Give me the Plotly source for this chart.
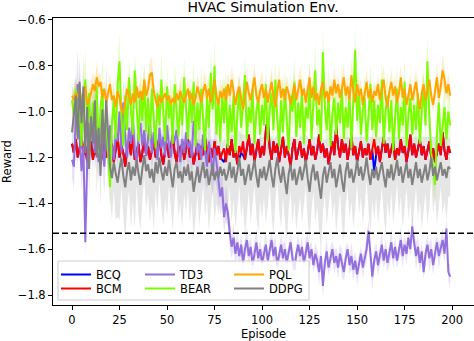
import plotly.graph_objects as go

EPISODES = list(range(200))

BCQ = [
    -1.14,-1.18,-1.12,-1.20,-1.16,-1.10,-1.19,-1.15,-1.22,-1.17,-1.13,-1.21,-1.16,-1.19,-1.14,-1.23,-1.18,-1.12,-1.20,-1.16,
    -1.19,-1.14,-1.22,-1.17,-1.11,-1.20,-1.15,-1.18,-1.24,-1.16,-1.13,-1.19,-1.09,-1.21,-1.17,-1.14,-1.22,-1.18,-1.12,-1.19,
    -1.15,-1.21,-1.17,-1.13,-1.20,-1.16,-1.11,-1.19,-1.23,-1.17,-1.14,-1.20,-1.16,-1.10,-1.18,-1.22,-1.15,-1.19,-1.13,-1.21,
    -1.17,-1.12,-1.20,-1.16,-1.23,-1.18,-1.14,-1.21,-1.15,-1.19,-1.11,-1.17,-1.22,-1.16,-1.20,-1.13,-1.19,-1.15,-1.20,-1.21,
    -1.22,-1.19,-1.14,-1.19,-1.12,-1.20,-1.17,-1.23,-1.20,-1.18,-1.19,-1.21,-1.16,-1.10,-1.19,-1.14,-1.22,-1.17,-1.12,-1.20,
    -1.15,-1.19,-1.08,-1.03,-1.16,-1.21,-1.13,-1.18,-1.14,-1.22,-1.17,-1.11,-1.20,-1.15,-1.19,-1.24,-1.16,-1.12,-1.21,-1.17,
    -1.13,-1.20,-1.16,-1.22,-1.18,-1.12,-1.19,-1.15,-1.21,-1.17,-1.10,-1.18,-1.14,-1.20,-1.16,-1.23,-1.17,-1.13,-1.19,-1.06,
    -1.15,-1.20,-1.12,-1.18,-1.14,-1.21,-1.16,-1.10,-1.19,-1.15,-1.22,-1.17,-1.13,-1.20,-1.16,-1.19,-1.14,-1.21,-1.17,-1.26,
    -1.19,-1.15,-1.22,-1.16,-1.11,-1.18,-1.14,-1.20,-1.17,-1.13,-1.21,-1.16,-1.19,-1.12,-1.18,-1.15,-1.22,-1.17,-1.10,-1.19,
    -1.14,-1.20,-1.16,-1.12,-1.19,-1.15,-1.21,-1.17,-1.13,-1.20,-1.16,-1.22,-1.18,-1.14,-1.19,-1.09,-1.17,-1.21,-1.15,-1.18,
]

BCM = [
    -1.14,-1.18,-1.12,-1.20,-1.16,-1.10,-1.19,-1.15,-1.22,-1.17,-1.13,-1.21,-1.16,-1.19,-1.14,-1.23,-1.18,-1.12,-1.20,-1.16,
    -1.19,-1.14,-1.22,-1.17,-1.11,-1.20,-1.15,-1.18,-1.24,-1.16,-1.13,-1.19,-1.09,-1.21,-1.17,-1.14,-1.22,-1.18,-1.12,-1.19,
    -1.15,-1.21,-1.17,-1.13,-1.20,-1.16,-1.11,-1.19,-1.23,-1.17,-1.14,-1.20,-1.16,-1.10,-1.18,-1.22,-1.15,-1.19,-1.13,-1.21,
    -1.17,-1.12,-1.20,-1.16,-1.23,-1.18,-1.14,-1.21,-1.15,-1.19,-1.11,-1.17,-1.22,-1.16,-1.20,-1.13,-1.19,-1.15,-1.21,-1.18,
    -1.16,-1.22,-1.14,-1.19,-1.12,-1.20,-1.17,-1.23,-1.15,-1.18,-1.13,-1.21,-1.16,-1.10,-1.19,-1.14,-1.22,-1.17,-1.12,-1.20,
    -1.15,-1.19,-1.08,-1.03,-1.16,-1.21,-1.13,-1.18,-1.14,-1.22,-1.17,-1.11,-1.20,-1.15,-1.19,-1.24,-1.16,-1.12,-1.21,-1.17,
    -1.13,-1.20,-1.16,-1.22,-1.18,-1.12,-1.19,-1.15,-1.21,-1.17,-1.10,-1.18,-1.14,-1.20,-1.16,-1.23,-1.17,-1.13,-1.19,-1.06,
    -1.15,-1.20,-1.12,-1.18,-1.14,-1.21,-1.16,-1.10,-1.19,-1.15,-1.22,-1.17,-1.13,-1.20,-1.16,-1.19,-1.14,-1.21,-1.17,-1.12,
    -1.19,-1.15,-1.22,-1.16,-1.11,-1.18,-1.14,-1.20,-1.17,-1.13,-1.21,-1.16,-1.19,-1.12,-1.18,-1.15,-1.22,-1.17,-1.10,-1.19,
    -1.14,-1.20,-1.16,-1.12,-1.19,-1.15,-1.21,-1.17,-1.13,-1.20,-1.16,-1.22,-1.18,-1.14,-1.19,-1.09,-1.17,-1.21,-1.15,-1.18,
]

TD3 = [
    -1.21,-1.24,-1.02,-0.88,-1.10,-1.26,-1.15,-1.57,-1.22,-1.05,-1.12,-1.00,-1.18,-1.08,-1.22,-1.03,-1.15,-1.24,-1.10,-1.19,
    -1.06,-1.16,-1.21,-1.09,-1.13,-1.00,-1.18,-0.96,-1.11,-1.20,-1.07,-1.14,-1.03,-1.17,-1.22,-1.10,-1.05,-1.15,-1.08,-1.19,
    -1.12,-1.04,-1.18,-1.09,-1.14,-1.21,-1.07,-1.16,-1.11,-1.19,-1.06,-1.15,-1.20,-1.10,-1.13,-1.08,-1.17,-1.22,-1.12,-1.18,
    -1.09,-1.16,-1.13,-1.20,-1.04,-1.11,-1.18,-1.14,-1.21,-1.10,-1.17,-1.24,-1.13,-1.19,-1.28,-1.16,-1.22,-1.30,-1.37,-1.33,
    -1.46,-1.40,-1.44,-1.53,-1.59,-1.55,-1.62,-1.57,-1.63,-1.58,-1.66,-1.60,-1.56,-1.63,-1.59,-1.67,-1.61,-1.57,-1.64,-1.60,
    -1.66,-1.62,-1.58,-1.65,-1.61,-1.56,-1.63,-1.59,-1.67,-1.62,-1.58,-1.64,-1.60,-1.66,-1.61,-1.57,-1.64,-1.69,-1.62,-1.58,
    -1.63,-1.59,-1.66,-1.61,-1.57,-1.64,-1.60,-1.67,-1.62,-1.65,-1.70,-1.63,-1.76,-1.66,-1.61,-1.68,-1.64,-1.60,-1.66,-1.63,
    -1.68,-1.62,-1.66,-1.70,-1.64,-1.60,-1.67,-1.63,-1.69,-1.65,-1.71,-1.66,-1.62,-1.68,-1.64,-1.60,-1.52,-1.63,-1.72,-1.65,
    -1.61,-1.67,-1.63,-1.58,-1.65,-1.60,-1.66,-1.62,-1.57,-1.64,-1.59,-1.65,-1.61,-1.56,-1.63,-1.58,-1.62,-1.55,-1.60,-1.50,
    -1.57,-1.63,-1.59,-1.66,-1.61,-1.70,-1.62,-1.58,-1.64,-1.60,-1.67,-1.61,-1.57,-1.63,-1.59,-1.56,-1.62,-1.51,-1.70,-1.72,
]

BEAR = [
    -0.95,-1.02,-0.90,-1.10,-0.93,-1.15,-0.97,-0.86,-1.05,-0.92,-1.12,-0.96,-1.08,-0.89,-1.18,-0.99,-0.90,-1.14,-1.03,-1.20,
    -1.33,-1.05,-0.95,-1.12,-0.88,-0.78,-1.02,-1.15,-0.93,-1.08,-0.85,-0.99,-1.10,-0.82,-0.96,-1.13,-0.91,-1.04,-0.87,-1.09,
    -0.94,-1.12,-0.90,-1.01,-1.16,-0.92,-1.06,-0.86,-0.98,-1.13,-0.89,-1.03,-0.95,-1.14,-0.88,-1.00,-1.11,-0.93,-1.06,-0.85,
    -0.99,-1.12,-0.91,-1.05,-0.87,-1.15,-0.96,-1.08,-0.90,-1.02,-1.17,-0.94,-1.07,-0.83,-0.99,-0.80,-1.10,-0.95,-1.13,-0.92,
    -1.05,-0.89,-1.16,-0.97,-1.09,-0.93,-1.18,-1.01,-0.91,-1.07,-0.96,-0.84,-1.12,-0.98,-1.05,-0.90,-1.14,-1.00,-0.94,-1.10,
    -0.97,-1.06,-0.88,-1.13,-0.99,-0.92,-1.08,-0.86,-1.03,-1.15,-0.95,-1.09,-0.90,-1.04,-1.17,-0.93,-1.00,-0.87,-1.11,-0.96,
    -1.07,-0.91,-1.14,-0.98,-1.03,-0.89,-1.12,-0.96,-0.82,-1.06,-0.99,-1.13,-0.74,-0.97,-1.08,-0.92,-1.15,-1.01,-0.94,-1.10,
    -0.96,-1.05,-0.90,-1.12,-0.98,-1.07,-0.93,-1.16,-0.97,-0.73,-1.04,-0.91,-1.10,-0.99,-0.94,-1.13,-1.02,-0.88,-1.08,-0.95,
    -1.11,-0.97,-1.05,-0.86,-1.14,-1.00,-0.93,-1.09,-0.95,-1.17,-1.03,-0.90,-1.12,-0.98,-1.06,-0.87,-1.15,-1.01,-0.94,-1.10,
    -0.97,-1.08,-0.92,-1.14,-1.00,-0.91,-1.06,-0.78,-1.02,-1.18,-1.25,-1.32,-1.10,-0.96,-1.15,-1.05,-0.98,-1.12,-1.00,-1.06,
]

PQL = [
    -0.93,-0.95,-0.92,-0.94,-0.90,-0.96,-0.93,-0.89,-0.97,-0.95,-0.92,-0.88,-0.91,-0.85,-0.89,-0.87,-0.94,-0.90,-0.96,-0.92,
    -0.88,-0.95,-0.93,-0.98,-0.91,-0.94,-0.99,-1.01,-0.95,-0.90,-0.93,-0.97,-0.92,-0.96,-0.89,-0.94,-0.91,-0.95,-0.86,-0.93,
    -0.90,-0.84,-0.83,-0.91,-0.95,-0.98,-0.93,-0.96,-0.94,-0.92,-0.95,-0.93,-0.97,-0.94,-0.96,-0.92,-0.95,-0.91,-0.94,-0.96,
    -0.93,-0.90,-0.95,-0.92,-0.97,-0.94,-0.89,-0.93,-0.96,-0.91,-0.88,-0.94,-0.90,-0.96,-0.92,-0.86,-0.93,-0.97,-0.91,-0.94,
    -0.90,-0.95,-0.88,-0.93,-0.86,-0.91,-0.97,-0.92,-0.89,-0.94,-0.99,-0.93,-0.87,-0.92,-0.95,-0.90,-0.85,-0.93,-0.96,-0.91,
    -0.88,-0.94,-0.90,-0.96,-0.92,-0.87,-0.93,-0.98,-0.91,-0.86,-0.94,-0.90,-0.95,-0.89,-0.92,-0.97,-0.93,-0.88,-0.95,-0.91,
    -0.86,-0.93,-0.90,-0.96,-0.91,-0.85,-0.94,-0.89,-0.95,-0.92,-0.97,-0.90,-0.87,-0.94,-0.91,-0.96,-0.89,-0.93,-0.86,-0.92,
    -0.88,-0.94,-0.90,-0.85,-0.93,-0.89,-0.95,-0.84,-0.91,-0.96,-0.88,-0.93,-0.90,-0.97,-0.92,-0.87,-0.94,-0.90,-0.96,-0.91,
    -0.93,-0.88,-0.95,-0.90,-0.86,-0.94,-0.98,-0.91,-0.87,-0.93,-0.89,-0.96,-0.92,-0.85,-0.94,-0.90,-0.97,-0.93,-0.88,-0.95,
    -0.91,-0.87,-0.94,-0.99,-0.92,-0.88,-0.95,-0.90,-0.86,-0.93,-0.97,-0.91,-0.85,-0.94,-0.89,-0.82,-0.86,-0.92,-0.88,-0.93,
]

DDPG = [
    -1.09,-1.00,-0.93,-1.12,-0.87,-1.05,-0.89,-1.18,-0.98,-1.25,-1.02,-1.14,-0.95,-1.20,-1.07,-1.28,-0.99,-1.16,-0.95,-1.10,
    -1.24,-1.29,-1.22,-1.27,-1.31,-1.25,-1.20,-1.28,-1.33,-1.26,-1.22,-1.30,-1.24,-1.28,-1.21,-1.27,-1.32,-1.25,-1.19,-1.26,
    -1.23,-1.29,-1.25,-1.31,-1.22,-1.27,-1.20,-1.26,-1.30,-1.24,-1.28,-1.21,-1.27,-1.33,-1.25,-1.22,-1.29,-1.26,-1.31,-1.24,
    -1.28,-1.23,-1.30,-1.26,-1.35,-1.29,-1.24,-1.31,-1.27,-1.22,-1.29,-1.25,-1.32,-1.27,-1.23,-1.30,-1.26,-1.29,-1.24,-1.28,
    -1.25,-1.30,-1.27,-1.22,-1.29,-1.24,-1.31,-1.26,-1.20,-1.28,-1.25,-1.32,-1.27,-1.23,-1.30,-1.26,-1.21,-1.28,-1.33,-1.25,
    -1.29,-1.24,-1.30,-1.26,-1.21,-1.28,-1.33,-1.25,-1.20,-1.27,-1.31,-1.24,-1.29,-1.36,-1.27,-1.23,-1.30,-1.25,-1.32,-1.28,
    -1.24,-1.30,-1.26,-1.21,-1.29,-1.35,-1.27,-1.23,-1.30,-1.26,-1.32,-1.38,-1.28,-1.24,-1.31,-1.27,-1.22,-1.29,-1.25,-1.33,
    -1.27,-1.23,-1.30,-1.35,-1.26,-1.22,-1.29,-1.25,-1.31,-1.27,-1.21,-1.28,-1.24,-1.30,-1.26,-1.20,-1.27,-1.32,-1.25,-1.29,
    -1.24,-1.30,-1.26,-1.22,-1.28,-1.33,-1.25,-1.29,-1.23,-1.30,-1.26,-1.21,-1.28,-1.24,-1.31,-1.27,-1.22,-1.29,-1.25,-1.32,
    -1.26,-1.22,-1.29,-1.25,-1.31,-1.27,-1.23,-1.30,-1.26,-1.20,-1.28,-1.24,-1.30,-1.26,-1.22,-1.28,-1.25,-1.29,-1.24,-1.25,
]

TD3_STD = [
    0.08,0.10,0.12,0.15,0.10,0.08,0.11,0.06,0.09,0.12,0.07,0.10,0.08,0.11,0.09,0.07,0.10,0.12,0.08,0.09,
    0.07,0.09,0.06,0.08,0.10,0.07,0.09,0.11,0.08,0.06,0.09,0.07,0.10,0.08,0.06,0.09,0.07,0.10,0.08,0.06,
    0.08,0.10,0.07,0.09,0.06,0.08,0.10,0.07,0.09,0.06,0.08,0.11,0.07,0.09,0.06,0.10,0.08,0.07,0.09,0.06,
    0.09,0.12,0.08,0.14,0.10,0.13,0.09,0.15,0.11,0.08,0.14,0.10,0.16,0.12,0.09,0.13,0.11,0.10,0.08,0.09,
    0.07,0.08,0.06,0.07,0.05,0.06,0.05,0.06,0.04,0.05,0.06,0.04,0.05,0.06,0.04,0.05,0.04,0.06,0.05,0.04,
    0.05,0.04,0.06,0.03,0.05,0.04,0.06,0.05,0.03,0.04,0.05,0.06,0.04,0.05,0.03,0.04,0.06,0.05,0.04,0.05,
    0.04,0.05,0.03,0.06,0.04,0.05,0.04,0.03,0.05,0.04,0.06,0.04,0.05,0.04,0.06,0.03,0.05,0.04,0.05,0.04,
    0.05,0.04,0.06,0.04,0.05,0.03,0.04,0.06,0.05,0.04,0.05,0.04,0.03,0.05,0.04,0.06,0.05,0.04,0.06,0.05,
    0.04,0.05,0.04,0.06,0.03,0.05,0.04,0.05,0.06,0.04,0.05,0.03,0.04,0.06,0.05,0.04,0.05,0.04,0.03,0.05,
    0.04,0.06,0.05,0.04,0.05,0.03,0.05,0.04,0.06,0.05,0.04,0.05,0.03,0.06,0.04,0.05,0.04,0.05,0.04,0.05,
]

BEAR_STD = [
    0.08,0.10,0.07,0.12,0.09,0.11,0.08,0.13,0.10,0.07,0.11,0.09,0.12,0.08,0.10,0.07,0.13,0.09,0.11,0.08,
    0.10,0.08,0.11,0.07,0.09,0.12,0.08,0.10,0.07,0.11,0.09,0.06,0.10,0.08,0.11,0.07,0.09,0.12,0.08,0.10,
    0.07,0.09,0.11,0.08,0.10,0.06,0.09,0.12,0.08,0.07,0.10,0.08,0.11,0.07,0.09,0.12,0.08,0.10,0.06,0.09,
    0.08,0.11,0.07,0.10,0.09,0.06,0.12,0.08,0.10,0.07,0.09,0.11,0.08,0.10,0.07,0.12,0.09,0.08,0.11,0.07,
    0.10,0.08,0.12,0.07,0.09,0.11,0.06,0.10,0.08,0.12,0.07,0.09,0.11,0.08,0.10,0.07,0.12,0.09,0.08,0.10,
    0.07,0.11,0.08,0.10,0.06,0.09,0.12,0.08,0.10,0.07,0.11,0.08,0.09,0.12,0.07,0.10,0.08,0.11,0.09,0.06,
    0.09,0.12,0.07,0.10,0.08,0.11,0.06,0.09,0.12,0.08,0.10,0.07,0.11,0.09,0.08,0.12,0.07,0.10,0.09,0.11,
    0.08,0.10,0.12,0.07,0.09,0.11,0.08,0.06,0.10,0.11,0.07,0.12,0.09,0.08,0.10,0.07,0.11,0.09,0.12,0.08,
    0.10,0.07,0.11,0.09,0.08,0.12,0.10,0.07,0.09,0.11,0.08,0.10,0.12,0.07,0.09,0.11,0.08,0.10,0.07,0.09,
    0.11,0.08,0.10,0.07,0.12,0.09,0.08,0.11,0.10,0.07,0.09,0.08,0.12,0.10,0.07,0.09,0.11,0.08,0.10,0.09,
]

PQL_STD = [
    0.04,0.03,0.05,0.04,0.06,0.03,0.04,0.05,0.03,0.04,0.05,0.06,0.04,0.07,0.05,0.04,0.03,0.05,0.04,0.03,
    0.05,0.03,0.04,0.03,0.05,0.04,0.03,0.04,0.04,0.05,0.03,0.04,0.05,0.03,0.06,0.04,0.05,0.03,0.06,0.04,
    0.05,0.06,0.07,0.04,0.03,0.04,0.04,0.03,0.04,0.05,0.03,0.04,0.03,0.04,0.03,0.05,0.04,0.05,0.04,0.03,
    0.04,0.05,0.03,0.04,0.03,0.04,0.05,0.04,0.03,0.05,0.06,0.04,0.05,0.03,0.04,0.06,0.04,0.03,0.05,0.04,
    0.05,0.03,0.06,0.04,0.06,0.05,0.03,0.04,0.05,0.04,0.03,0.04,0.06,0.04,0.03,0.05,0.06,0.04,0.03,0.05,
    0.06,0.04,0.05,0.03,0.04,0.06,0.04,0.03,0.05,0.06,0.04,0.05,0.03,0.05,0.04,0.03,0.04,0.06,0.04,0.05,
    0.06,0.04,0.05,0.03,0.05,0.06,0.04,0.05,0.03,0.04,0.03,0.05,0.06,0.04,0.05,0.03,0.05,0.04,0.06,0.04,
    0.05,0.04,0.05,0.06,0.04,0.05,0.03,0.07,0.04,0.03,0.05,0.04,0.05,0.03,0.04,0.06,0.04,0.05,0.03,0.04,
    0.04,0.05,0.03,0.05,0.06,0.04,0.03,0.04,0.06,0.04,0.05,0.03,0.04,0.06,0.04,0.05,0.03,0.04,0.05,0.03,
    0.04,0.06,0.04,0.03,0.04,0.05,0.03,0.05,0.06,0.04,0.03,0.04,0.06,0.04,0.05,0.07,0.06,0.04,0.05,0.04,
]

DDPG_STD = [
    0.10,0.12,0.08,0.14,0.11,0.09,0.13,0.10,0.15,0.12,0.09,0.14,0.11,0.16,0.10,0.13,0.12,0.09,0.15,0.11,
    0.14,0.18,0.12,0.20,0.15,0.22,0.13,0.19,0.24,0.16,0.12,0.21,0.15,0.23,0.11,0.18,0.20,0.14,0.10,0.17,
    0.13,0.19,0.15,0.21,0.12,0.17,0.10,0.16,0.20,0.14,0.18,0.11,0.15,0.19,0.13,0.09,0.17,0.14,0.20,0.12,
    0.16,0.11,0.18,0.14,0.21,0.16,0.12,0.19,0.15,0.10,0.17,0.13,0.20,0.15,0.11,0.18,0.14,0.16,0.12,0.15,
    0.13,0.18,0.15,0.11,0.19,0.14,0.20,0.16,0.12,0.18,0.15,0.22,0.16,0.12,0.19,0.15,0.11,0.17,0.21,0.14,
    0.18,0.13,0.19,0.15,0.11,0.17,0.21,0.14,0.10,0.16,0.20,0.13,0.18,0.22,0.15,0.12,0.19,0.14,0.20,0.16,
    0.13,0.19,0.15,0.11,0.18,0.22,0.16,0.12,0.19,0.15,0.20,0.23,0.16,0.12,0.19,0.15,0.11,0.18,0.14,0.20,
    0.16,0.12,0.19,0.22,0.15,0.11,0.18,0.14,0.20,0.16,0.10,0.17,0.13,0.19,0.15,0.10,0.16,0.21,0.14,0.18,
    0.13,0.19,0.15,0.11,0.17,0.21,0.14,0.18,0.12,0.19,0.15,0.10,0.17,0.13,0.20,0.16,0.11,0.18,0.14,0.20,
    0.15,0.11,0.18,0.14,0.20,0.16,0.12,0.19,0.15,0.09,0.17,0.13,0.19,0.15,0.11,0.17,0.14,0.18,0.13,0.12,
]

THRESHOLD = -1.53
X_TICKS = [0, 25, 50, 75, 100, 125, 150, 175, 200]
Y_TICKS = [-0.6, -0.8, -1.0, -1.2, -1.4, -1.6, -1.8]

FONT = "DejaVu Sans"

W, H = 474, 341
L, R, T, B = 53, 0, 18, 36
pw, ph = W - L - R, H - T - B


def px_x(x):
    return (x - L) / pw


def px_y(y):
    return (H - B - y) / ph


# name, mean, std, line colour, band colour, legend id, legend left px, legend top px
series = [
    ("BCQ", BCQ, None, "#0000FF", "rgba(0,0,255,0.2)", "legend", 56, 260),
    ("BCM", BCM, None, "#FF0000", "rgba(255,0,0,0.2)", "legend2", 56, 274),
    ("TD3", TD3, TD3_STD, "#9370DB", "rgba(147,112,219,0.2)", "legend3", 140, 260),
    ("BEAR", BEAR, BEAR_STD, "#7CFC00", "rgba(124,252,0,0.2)", "legend4", 140, 274),
    ("PQL", PQL, PQL_STD, "#FFA500", "rgba(255,165,0,0.2)", "legend5", 229, 260),
    ("DDPG", DDPG, DDPG_STD, "#808080", "rgba(128,128,128,0.2)", "legend6", 229, 274),
]

fig = go.Figure()

# shaded bands
for name, mean, std, color, fill, leg, lx, ly in series:
    if std is None:
        continue
    upper = [m + s for m, s in zip(mean, std)]
    lower = [m - s for m, s in zip(mean, std)]
    fig.add_trace(go.Scatter(x=EPISODES, y=upper, mode="lines", line=dict(width=0),
                             showlegend=False, hoverinfo="skip"))
    fig.add_trace(go.Scatter(x=EPISODES, y=lower, mode="lines", line=dict(width=0),
                             fill="tonexty", fillcolor=fill, showlegend=False, hoverinfo="skip"))

# mean lines
for name, mean, std, color, fill, leg, lx, ly in series:
    fig.add_trace(go.Scatter(x=EPISODES, y=mean, mode="lines", name=name,
                             line=dict(color=color, width=2), legend=leg))

fig.add_hline(y=THRESHOLD, line=dict(color="black", width=1.5, dash="6px,3px"))

# legend frame
fig.add_shape(type="rect", xref="paper", yref="paper",
              x0=px_x(58), x1=px_x(309), y0=px_y(300), y1=px_y(261),
              line=dict(color="#cccccc", width=1), fillcolor="rgba(255,255,255,0.8)",
              layer="above")

leg_common = dict(orientation="v", xanchor="left", yanchor="top", bgcolor="rgba(0,0,0,0)",
                  borderwidth=0, font=dict(family=FONT, size=11.5, color="black"),
                  tracegroupgap=0, itemwidth=30)

legends = {}
for name, mean, std, color, fill, leg, lx, ly in series:
    legends[leg] = dict(x=px_x(lx), y=px_y(ly), **leg_common)

fig.update_layout(
    width=W, height=H,
    margin=dict(l=L, r=R, t=T, b=B),
    paper_bgcolor="white", plot_bgcolor="white",
    font=dict(family=FONT, size=11.5, color="black"),
    title=dict(text="HVAC Simulation Env.", x=263 / W, xanchor="center",
               y=1 - 7 / H, yanchor="middle", font=dict(family=FONT, size=14, color="black")),
    xaxis=dict(range=[-10, 211.5], tickvals=X_TICKS, showgrid=False, zeroline=False,
               showline=True, linecolor="black", linewidth=1, mirror=True,
               ticks="outside", ticklen=4, tickcolor="black", tickwidth=1,
               tickfont=dict(family=FONT, size=11.5, color="black"),
               title=dict(text="Episode", standoff=2, font=dict(family=FONT, size=11.5, color="black"))),
    yaxis=dict(range=[-1.8436, -0.5913], tickvals=Y_TICKS, tickformat=".1f", showgrid=False,
               zeroline=False, showline=True, linecolor="black", linewidth=1,
               ticks="outside", ticklen=4, tickcolor="black", tickwidth=1,
               tickfont=dict(family=FONT, size=11.5, color="black"),
               title=dict(text="Reward", standoff=6, font=dict(family=FONT, size=11.5, color="black"))),
    **legends,
)

fig.write_html("out.html")
